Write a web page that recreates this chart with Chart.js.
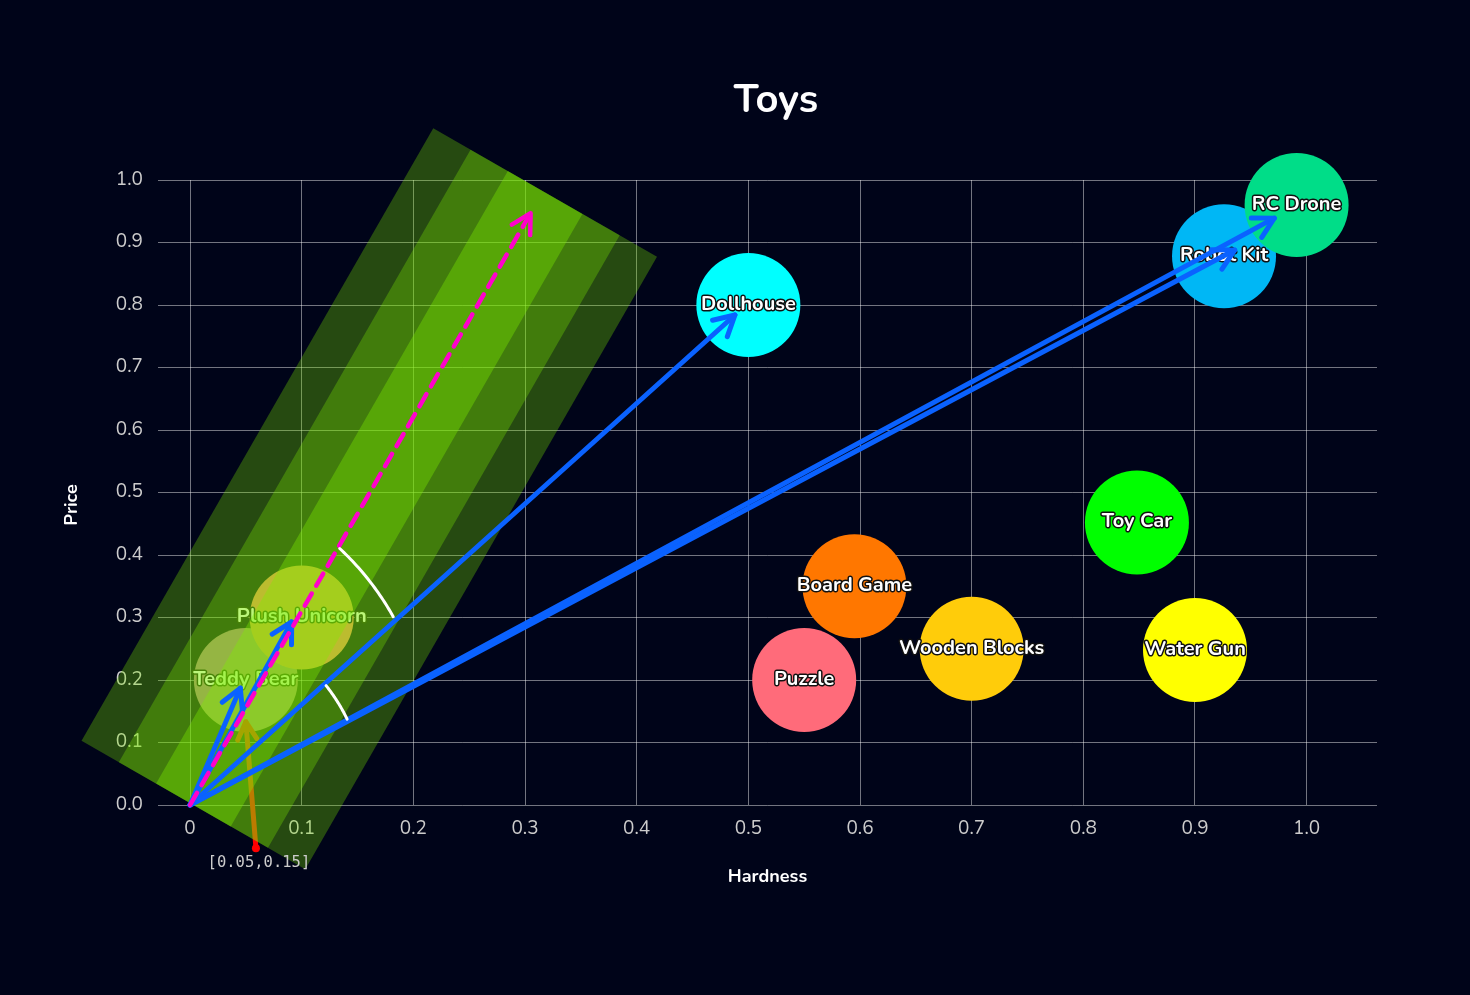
<!DOCTYPE html>
<html>
<head>
<meta charset="utf-8">
<script src="https://cdn.jsdelivr.net/npm/chart.js@4.4.1/dist/chart.umd.min.js"></script>
<style>
  html, body { margin: 0; padding: 0; background: #000419; }
  canvas { display: block; }
</style>
</head>
<body>
<canvas id="chart" width="1470" height="995"></canvas>
<script>
// toys: hardness vs price
const toyNames = ['Teddy Bear', 'Plush Unicorn', 'Dollhouse', 'Puzzle', 'Board Game',
                  'Wooden Blocks', 'Toy Car', 'Water Gun', 'Robot Kit', 'RC Drone'];
const hardness = [0.05, 0.1, 0.5, 0.55, 0.595, 0.7, 0.848, 0.9, 0.926, 0.991];
const price    = [0.2, 0.3, 0.8, 0.2, 0.35, 0.25, 0.452, 0.248, 0.878, 0.96];
const toyColors = ['#af788c', '#ff8764', '#00ffff', '#ff6b7a', '#ff7700',
                   '#ffcc0a', '#00ff00', '#ffff00', '#00b7f5', '#00dd88'];

// vectors from the origin (arrow tips)
const vectorTipX = [0.045, 0.091, 0.488, 0.9355, 0.971];
const vectorTipY = [0.187, 0.293, 0.784, 0.888, 0.939];
const dashedTip = [0.305, 0.947];
const bandStart = [0.003, 0];
const bandEnd = [0.318, 0.98];

// callout
const calloutText = '[0.05,0.15]';
const calloutFrom = [0.059, -0.069];
const calloutTo = [0.05, 0.133];

const xTicks = [0, 0.1, 0.2, 0.3, 0.4, 0.5, 0.6, 0.7, 0.8, 0.9, 1.0];
const xTickLabels = ['0', '0.1', '0.2', '0.3', '0.4', '0.5', '0.6', '0.7', '0.8', '0.9', '1.0'];
const yTicks = [0, 0.1, 0.2, 0.3, 0.4, 0.5, 0.6, 0.7, 0.8, 0.9, 1.0];
const yTickLabels = ['0.0', '0.1', '0.2', '0.3', '0.4', '0.5', '0.6', '0.7', '0.8', '0.9', '1.0'];

const FONT = 'Nunito, "Noto Sans", sans-serif';
const ctx = document.getElementById('chart').getContext('2d');

function arrow(c, x0, y0, x1, y1, color, width, dash, head) {
    c.save();
    c.strokeStyle = color;
    c.lineWidth = width;
    c.lineCap = 'round';
    c.lineJoin = 'round';
    c.setLineDash(dash || []);
    c.beginPath();
    c.moveTo(x0, y0);
    c.lineTo(x1, y1);
    c.stroke();
    c.setLineDash([]);
    const a = Math.atan2(y1 - y0, x1 - x0);
    c.beginPath();
    c.moveTo(x1 - head * Math.cos(a - 0.5), y1 - head * Math.sin(a - 0.5));
    c.lineTo(x1, y1);
    c.lineTo(x1 - head * Math.cos(a + 0.5), y1 - head * Math.sin(a + 0.5));
    c.stroke();
    c.restore();
}

// arc around origin between two directions, radius going from r0 to r1
function angleArc(c, ox, oy, a0, a1, r0, r1) {
    c.save();
    c.strokeStyle = '#ffffff';
    c.lineWidth = 3;
    c.lineCap = 'round';
    c.beginPath();
    const n = 30;
    for (let i = 0; i <= n; i++) {
        const t = i / n;
        const a = a0 + (a1 - a0) * t;
        const r = r0 + (r1 - r0) * t;
        const x = ox + r * Math.cos(a), y = oy - r * Math.sin(a);
        if (i === 0) c.moveTo(x, y); else c.lineTo(x, y);
    }
    c.stroke();
    c.restore();
}

const overlay = {
    id: 'overlay',
    afterDatasetsDraw(chart) {
        const c = chart.ctx;
        const sx = chart.scales.x, sy = chart.scales.y;
        const px = v => sx.getPixelForValue(v);
        const py = v => sy.getPixelForValue(v);
        const ox = px(0), oy = py(0);

        // title and y axis name
        c.save();
        c.font = 'bold 40px ' + FONT;
        c.fillStyle = '#ffffff';
        c.textAlign = 'center';
        c.textBaseline = 'middle';
        c.fillText('Toys', 776, 102);
        c.font = 'bold 18px ' + FONT;
        c.translate(73, 505);
        c.rotate(-Math.PI / 2);
        c.fillText('Price', 0, 0);
        c.restore();

        // labels on bubbles
        c.save();
        c.font = 'bold 20px ' + FONT;
        c.textAlign = 'center';
        c.textBaseline = 'middle';
        c.lineJoin = 'round';
        c.lineWidth = 3;
        c.strokeStyle = '#111111';
        c.fillStyle = '#ffffff';
        toyNames.forEach((n, i) => {
            c.strokeText(n, px(hardness[i]), py(price[i]));
            c.fillText(n, px(hardness[i]), py(price[i]));
        });
        c.restore();

        // callout arrow (under the band)
        const fx = px(calloutFrom[0]), fy = py(calloutFrom[1]);
        arrow(c, fx, fy, px(calloutTo[0]), py(calloutTo[1]), '#ff0000', 5, null, 20);

        // band along the dashed vector, 1/2/3 widths
        const bx = px(bandStart[0]), by = py(bandStart[1]);
        const ex = px(bandEnd[0]), ey = py(bandEnd[1]);
        const len = Math.hypot(ex - bx, ey - by);
        const ux = (ex - bx) / len, uy = (ey - by) / len;
        const vx = -uy, vy = ux;
        const halfW = [129, 86, 43];
        const alphas = [0.3, 0.31, 0.37];
        halfW.forEach((w, k) => {
            c.save();
            c.fillStyle = 'rgba(125, 240, 0, ' + alphas[k] + ')';
            c.beginPath();
            c.moveTo(bx + vx * w, by + vy * w);
            c.lineTo(ex + vx * w, ey + vy * w);
            c.lineTo(ex - vx * w, ey - vy * w);
            c.lineTo(bx - vx * w, by - vy * w);
            c.closePath();
            c.fill();
            c.restore();
        });

        // red dot + text of the callout
        c.save();
        c.fillStyle = '#ff0000';
        c.beginPath();
        c.arc(fx, fy, 4, 0, Math.PI * 2);
        c.fill();
        c.font = '15.5px "DejaVu Sans Mono", monospace';
        c.fillStyle = '#cccccc';
        c.textAlign = 'center';
        c.textBaseline = 'middle';
        c.fillText(calloutText, fx + 3, fy + 15);
        c.restore();

        // blue vectors
        vectorTipX.forEach((x, i) => {
            arrow(c, ox, oy, px(x), py(vectorTipY[i]), '#0a62ff', 5, null, 23);
        });

        // dashed magenta vector
        const mx = px(dashedTip[0]), my = py(dashedTip[1]);
        arrow(c, ox, oy, mx, my, '#ff00cc', 4.5, [14, 9], 22);

        // angle arcs
        const ang = (x, y) => Math.atan2(oy - py(y), px(x) - ox);
        const aM = ang(dashedTip[0], dashedTip[1]);
        const aD = ang(vectorTipX[2], vectorTipY[2]);
        const aR = ang(vectorTipX[3], vectorTipY[3]);
        angleArc(c, ox, oy, aM - 0.006, aD + 0.015, 297, 277);
        angleArc(c, ox, oy, aD - 0.012, aR + 0.012, 181, 179);
    }
};

new Chart(ctx, {
    type: 'scatter',
    data: {
        datasets: [{
            data: hardness.map((h, i) => ({ x: h, y: price[i] })),
            backgroundColor: toyColors,
            borderWidth: 0,
            pointRadius: 52,
            pointHoverRadius: 52,
            clip: false
        }]
    },
    options: {
        responsive: false,
        animation: false,
        events: [],
        layout: { padding: { left: 0, right: 93, top: 180, bottom: 90 } },
        plugins: {
            legend: { display: false },
            tooltip: { enabled: false },
            title: { display: false }
        },
        scales: {
            x: {
                type: 'linear',
                min: -0.0287,
                max: 1.063,
                afterBuildTicks: s => { s.ticks = xTicks.map(v => ({ value: v })); },
                afterFit: s => { s.height = 100; },
                grid: { color: 'rgba(255, 255, 255, 0.45)', drawTicks: false },
                border: { display: false },
                ticks: {
                    color: '#cccccc',
                    padding: 13,
                    font: { family: FONT, size: 19 },
                    callback: (v, i) => xTickLabels[i]
                },
                title: {
                    display: true,
                    text: 'Hardness',
                    color: '#ffffff',
                    padding: 17,
                    font: { family: FONT, size: 18, weight: 'bold' }
                }
            },
            y: {
                type: 'linear',
                min: 0,
                max: 1,
                afterBuildTicks: s => { s.ticks = yTicks.map(v => ({ value: v })); },
                afterFit: s => { s.width = 158; },
                grid: { color: 'rgba(255, 255, 255, 0.45)', drawTicks: false },
                border: { display: false },
                ticks: {
                    color: '#cccccc',
                    padding: 15,
                    font: { family: FONT, size: 19 },
                    callback: (v, i) => yTickLabels[i]
                },
                title: { display: false }
            }
        }
    },
    plugins: [overlay]
});
</script>
</body>
</html>
